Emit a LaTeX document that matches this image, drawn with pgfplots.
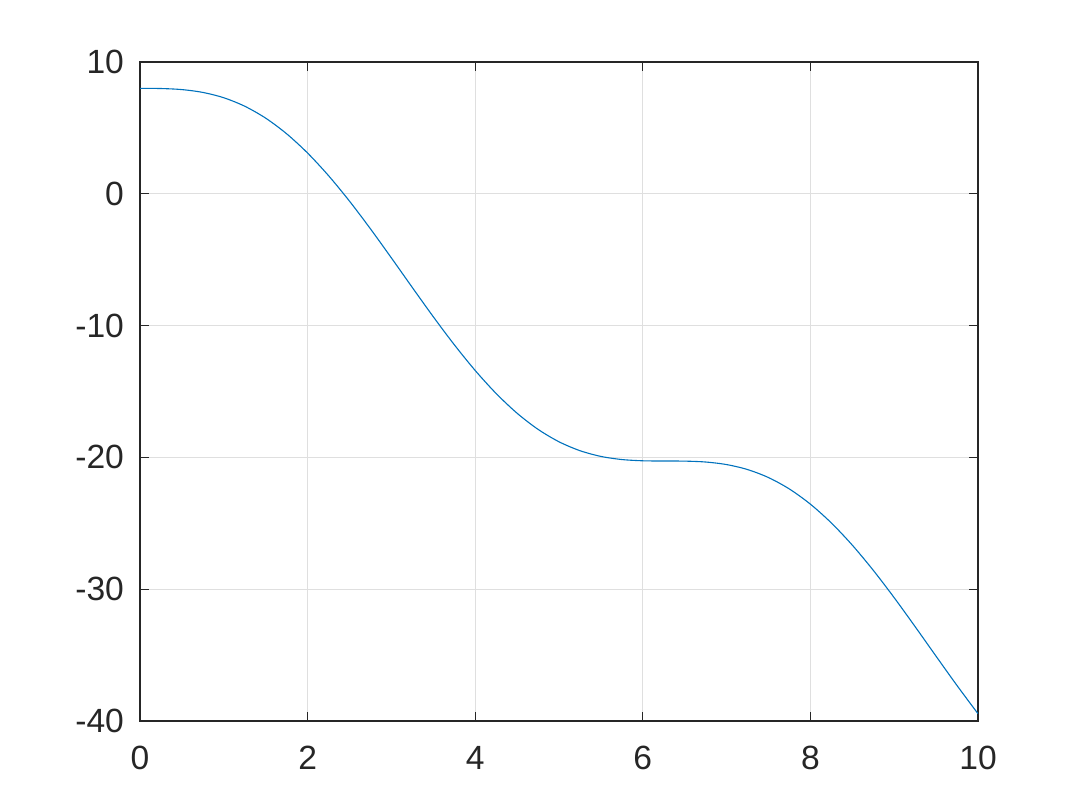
\documentclass[border=0pt]{standalone}
\usepackage{pgfplots}
\pgfplotsset{compat=1.18}
\usepackage{fontspec}
\setmainfont{Liberation Sans}
\definecolor{mblue}{RGB}{0,114,189}
\definecolor{axc}{RGB}{38,38,38}
\pgfplotstableread{
x y
0 8
0.25 7.988
0.5 7.907
0.75 7.692
1.0 7.287
1.25 6.645
1.5 5.739
1.75 4.553
2.0 3.092
2.25 1.376
2.5 -0.557
2.75 -2.658
3.0 -4.865
3.25 -7.112
3.5 -9.329
3.75 -11.447
4.0 -13.406
4.25 -15.152
4.5 -16.649
4.75 -17.872
5.0 -18.815
5.25 -19.490
5.5 -19.925
5.75 -20.162
6.0 -20.257
6.25 -20.274
6.5 -20.282
6.75 -20.350
7.0 -20.544
7.25 -20.921
7.5 -21.529
7.75 -22.399
8.0 -23.548
8.25 -24.973
8.5 -26.657
8.75 -28.564
9.0 -30.645
9.25 -32.843
9.5 -35.088
9.75 -37.311
10.0 -39.448
}\curve
\begin{document}
\begin{tikzpicture}[x=1pt,y=1pt]
\path[use as bounding box] (0,0) rectangle (541,405.5);
\begin{axis}[
  at={(70pt,45pt)}, anchor=south west,
  scale only axis, width=419pt, height=329.5pt,
  xmin=0, xmax=10, ymin=-40, ymax=10,
  xtick={0,2,4,6,8,10},
  ytick={-40,-30,-20,-10,0,10},
  yticklabels={-40,-30,-20,-10,0,10},
  xticklabels={0,2,4,6,8,10},
  tick align=inside,
  major tick length=4.5pt,
  tick style={axc, line width=0.6pt},
  axis line style={axc, line width=0.6pt},
  grid=major,
  grid style={gray!25, line width=0.5pt},
  ticklabel style={font=\fontsize{16.8}{18}\selectfont, text=axc},
  xticklabel style={yshift=-9pt},
  yticklabel style={xshift=-4.5pt},
]
\addplot[mblue, line width=0.55pt, smooth] table {\curve};
\end{axis}
\end{tikzpicture}
\end{document}
